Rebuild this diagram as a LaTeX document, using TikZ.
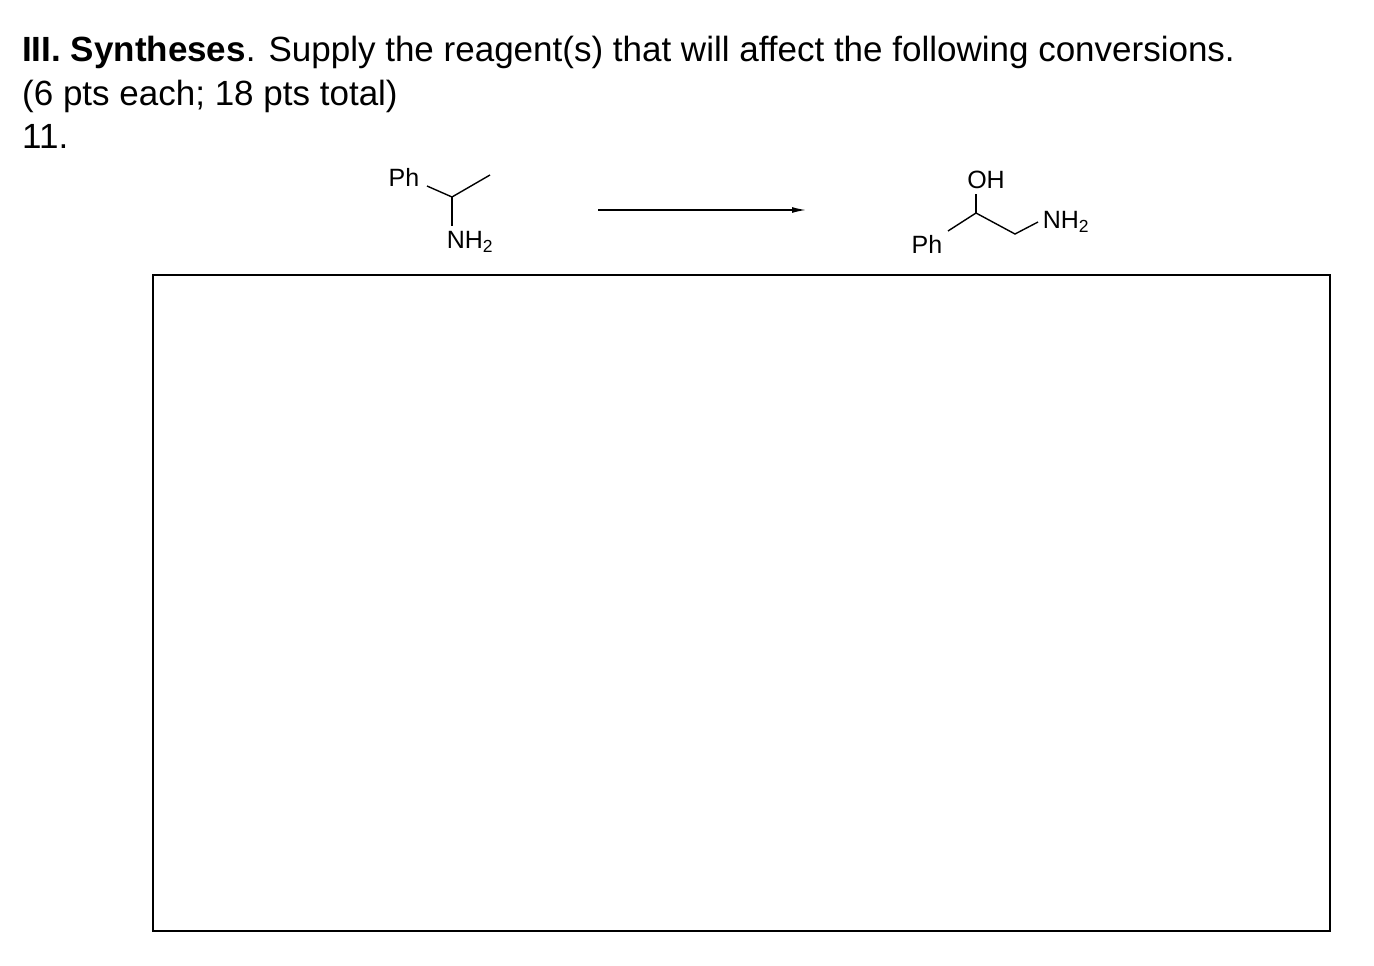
\documentclass[tikz,border=0pt]{standalone}
\usepackage{fontspec}
\setmainfont{Liberation Sans}
\usetikzlibrary{arrows.meta}
\begin{document}
\begin{tikzpicture}[x=1pt,y=-1pt,
  txt/.style={font=\fontsize{35}{40}\selectfont,anchor=base west,inner sep=0},
  lab/.style={font=\fontsize{25}{28}\selectfont,inner sep=0},
  bond/.style={line width=1.4pt}]
\useasboundingbox (0,0) rectangle (1374,966);
\node[txt] (t1) at (22,62) {\textbf{III. Syntheses}. Supply the reagent(s) that will affect the following conversions.};
\node[txt] (t2) at (22,106) {(6 pts each; 18 pts total)};
\node[txt] (t3) at (22,148) {11.};
% molecule 1
\node[lab] (ph1) at (404,177) {Ph};
\node[lab] (n1) at (470,242) {NH\textsubscript{2}};
\coordinate (c1) at (452,197);
\coordinate (me1) at (490,175);
\draw[bond] (427,186) -- (c1) -- (me1);
\draw[bond] (c1) -- (452,226);
% arrow
\coordinate (a1) at (598,210);
\coordinate (a2) at (806,210);
\draw[line width=1.4pt,-{Latex[length=14pt,width=6pt]}] (a1) -- (a2);
% molecule 2
\node[lab] (ph2) at (927,244) {Ph};
\node[lab] (oh) at (986,180) {OH};
\node[lab] (n2) at (1066,222) {NH\textsubscript{2}};
\coordinate (c2) at (976,213);
\coordinate (c3) at (1015,234);
\draw[bond] (948,231) -- (c2) -- (c3) -- (1038,222);
\draw[bond] (c2) -- (976,194);
% box
\draw[line width=1.4pt] (153,275) rectangle (1330,931);
\end{tikzpicture}
\end{document}
